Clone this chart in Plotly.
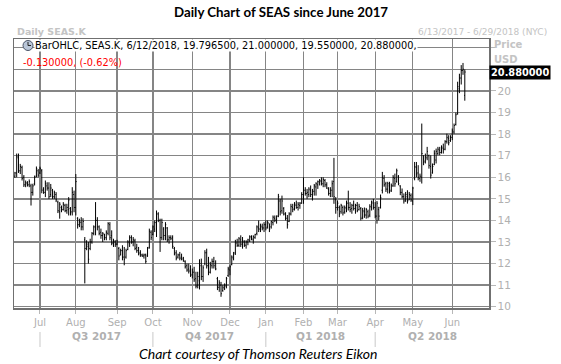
import plotly.graph_objects as go
import pandas as pd

# ---------------- data ----------------
holidays = ["2017-07-04", "2017-09-04", "2017-11-23", "2017-12-25", "2018-01-01",
            "2018-01-15", "2018-02-19", "2018-03-30", "2018-05-28"]
bday = pd.offsets.CustomBusinessDay(holidays=holidays)
dates = [d.strftime("%Y-%m-%d") for d in pd.date_range("2017-06-13", "2018-06-12", freq=bday)]
axis_slots = len(pd.date_range("2017-06-13", "2018-06-29", freq=bday))  # visible window 6/13/2017 - 6/29/2018

open_ = [16.05, 16.20, 16.90, 16.30, 16.45, 16.00, 15.65, 15.70, 15.65, 15.60,
         15.30, 15.70, 16.05, 16.30, 16.20, 16.30, 15.45, 15.30, 15.60, 15.50,
         15.20, 15.40, 15.10, 15.20, 14.85, 14.40, 14.60, 14.50, 14.70, 14.45,
         14.50, 14.55, 14.40, 15.20, 14.60, 14.10, 13.80, 13.90, 13.70, 13.10,
         12.70, 12.80, 12.70, 13.00, 13.40, 13.70, 14.00, 13.70, 13.45, 13.30,
         13.35, 13.20, 13.40, 13.80, 13.30, 12.95, 13.00, 12.90, 12.70, 12.40,
         12.60, 12.30, 12.30, 12.65, 12.95, 13.20, 13.00, 13.05, 12.75, 12.60,
         12.50, 12.40, 12.35, 12.40, 12.35, 12.75, 13.45, 13.35, 13.60, 13.90,
         14.30, 14.00, 13.20, 13.60, 13.30, 13.65, 13.10, 13.20, 13.20, 12.70,
         12.50, 12.30, 12.40, 12.30, 12.25, 12.10, 11.90, 11.75, 11.70, 11.50,
         11.60, 11.30, 11.00, 11.20, 11.90, 11.40, 12.00, 12.50, 11.90, 11.60,
         11.90, 12.10, 12.00, 11.30, 10.90, 11.00, 10.75, 10.85, 10.95, 11.45,
         11.70, 11.95, 12.25, 12.50, 12.95, 12.85, 13.10, 12.90, 13.00, 12.85,
         13.00, 13.05, 13.20, 13.10, 13.20, 13.40, 13.65, 13.60, 13.70, 13.65,
         13.80, 13.70, 13.85, 13.70, 13.90, 14.10, 14.05, 14.20, 14.90, 14.45,
         14.55, 14.30, 14.10, 13.95, 14.30, 14.60, 14.55, 14.70, 14.60, 14.70,
         14.80, 15.20, 15.40, 15.25, 15.20, 15.40, 15.20, 15.35, 15.55, 15.65,
         15.75, 15.80, 15.70, 15.85, 15.65, 15.45, 15.25, 15.40, 15.80, 14.95,
         14.60, 14.60, 14.40, 14.60, 14.40, 14.55, 14.80, 14.60, 14.55, 14.70,
         14.55, 14.70, 14.50, 14.55, 14.15, 14.40, 14.25, 14.40, 14.25, 14.60,
         14.80, 14.60, 14.20, 14.50, 14.60, 15.40, 15.95, 15.70, 15.45, 15.60,
         15.40, 15.60, 15.95, 15.80, 16.05, 15.60, 15.30, 15.10, 14.95, 15.10,
         14.95, 15.15, 14.90, 15.95, 16.45, 16.20, 15.95, 16.00, 17.00, 16.75,
         16.90, 17.00, 16.50, 16.20, 16.60, 16.80, 17.10, 17.25, 17.15, 17.35,
         17.30, 17.65, 17.80, 17.70, 17.85, 18.10, 18.45, 18.95, 20.10, 20.60,
         20.95, 19.7965]

high = [16.25, 17.10, 17.10, 16.62, 16.54, 16.10, 15.85, 15.82, 15.90, 15.70,
        15.70, 16.08, 16.50, 16.38, 16.49, 16.38, 15.54, 15.85, 15.77, 15.77,
        15.69, 15.46, 15.38, 15.31, 14.92, 14.85, 14.69, 14.85, 14.77, 14.77,
        15.08, 14.62, 15.54, 15.38, 16.15, 14.15, 14.08, 14.15, 14.10, 13.23,
        13.08, 13.00, 13.15, 13.46, 13.77, 14.85, 14.15, 13.77, 13.62, 13.46,
        13.38, 13.54, 13.92, 13.92, 13.54, 13.15, 13.08, 13.10, 12.77, 12.69,
        12.85, 12.77, 12.69, 13.08, 13.31, 13.31, 13.23, 13.15, 12.92, 12.77,
        12.62, 12.46, 12.46, 12.46, 12.77, 13.62, 13.54, 13.77, 14.00, 14.46,
        14.38, 14.08, 14.08, 13.69, 13.92, 13.69, 13.31, 13.31, 13.31, 12.77,
        12.62, 12.46, 12.54, 12.46, 12.31, 12.15, 12.00, 12.00, 11.92, 11.77,
        11.85, 11.62, 11.62, 12.20, 12.23, 11.92, 12.62, 12.69, 12.31, 12.08,
        12.23, 12.31, 12.15, 11.38, 11.23, 11.15, 11.00, 11.08, 11.38, 11.85,
        11.92, 12.38, 12.54, 13.10, 13.15, 13.23, 13.31, 13.23, 13.08, 13.08,
        13.15, 13.31, 13.31, 13.31, 13.38, 13.77, 14.00, 13.85, 13.85, 13.92,
        14.00, 14.00, 13.85, 14.00, 14.23, 14.23, 14.23, 15.23, 15.00, 15.15,
        14.62, 14.38, 14.25, 14.38, 14.77, 14.77, 14.85, 14.92, 14.85, 14.85,
        15.31, 16.00, 15.54, 15.46, 15.54, 15.62, 15.46, 15.69, 15.77, 15.85,
        15.92, 16.00, 16.00, 15.92, 15.77, 15.54, 15.54, 15.85, 16.90, 15.08,
        14.92, 14.69, 14.77, 14.69, 14.69, 14.92, 15.38, 14.85, 14.77, 14.92,
        14.77, 14.85, 14.77, 14.62, 14.58, 14.60, 14.58, 14.50, 14.75, 14.92,
        15.00, 14.85, 14.90, 14.63, 15.20, 16.25, 16.10, 15.79, 15.79, 15.79,
        15.71, 16.10, 16.17, 16.40, 16.10, 15.63, 15.48, 15.25, 15.32, 15.40,
        15.32, 15.25, 15.56, 16.71, 16.71, 16.56, 16.17, 18.49, 17.02, 17.10,
        17.41, 17.05, 17.02, 16.64, 17.25, 17.33, 17.41, 17.41, 17.48, 17.56,
        17.72, 18.02, 17.95, 17.95, 18.26, 18.49, 19.00, 20.43, 20.80, 21.20,
        21.30, 21.00]

low = [15.97, 16.00, 16.20, 16.15, 15.85, 15.55, 15.54, 15.57, 15.54, 14.69,
       15.15, 15.62, 16.00, 16.00, 16.15, 15.26, 15.23, 15.08, 15.38, 15.00,
       15.08, 15.00, 15.00, 14.85, 14.34, 14.08, 14.38, 14.46, 14.38, 14.31,
       14.23, 14.23, 14.23, 14.38, 14.23, 13.62, 13.69, 13.54, 13.54, 11.08,
       12.62, 12.00, 12.62, 12.92, 13.31, 13.31, 13.54, 13.31, 13.15, 13.00,
       13.08, 13.08, 13.31, 13.08, 12.85, 12.77, 12.77, 12.85, 12.15, 12.38,
       12.15, 11.92, 12.23, 12.62, 12.77, 12.92, 12.80, 12.62, 12.50, 12.38,
       12.31, 12.31, 12.23, 12.00, 12.31, 12.69, 13.08, 13.31, 13.46, 13.23,
       13.92, 12.54, 13.08, 13.08, 13.08, 13.00, 12.92, 13.08, 12.69, 12.38,
       12.15, 12.23, 12.15, 12.15, 12.08, 11.77, 11.62, 11.54, 11.38, 11.31,
       11.15, 10.85, 10.85, 10.80, 11.23, 11.15, 11.92, 11.77, 11.46, 11.54,
       11.77, 11.77, 11.69, 10.77, 10.69, 10.46, 10.69, 10.77, 10.85, 11.38,
       11.46, 11.92, 12.15, 12.40, 12.77, 12.77, 12.77, 12.69, 12.77, 12.69,
       12.85, 13.00, 13.08, 12.92, 13.15, 13.31, 13.46, 13.46, 13.54, 13.46,
       13.54, 13.62, 13.46, 13.62, 13.77, 13.92, 13.85, 14.15, 14.23, 14.31,
       14.23, 14.00, 13.62, 13.92, 14.23, 14.38, 14.46, 14.54, 14.46, 14.54,
       14.77, 14.77, 15.15, 15.00, 15.08, 15.08, 14.92, 15.15, 15.15, 15.46,
       15.62, 15.62, 15.54, 15.54, 15.46, 15.15, 15.08, 15.08, 14.77, 14.31,
       14.46, 14.15, 14.31, 14.23, 14.31, 14.38, 14.46, 14.38, 14.31, 14.46,
       14.31, 14.38, 14.46, 14.00, 14.05, 14.12, 14.08, 14.10, 14.15, 14.46,
       14.50, 14.10, 13.85, 14.00, 14.55, 15.25, 15.56, 15.32, 15.25, 15.25,
       15.32, 15.56, 15.56, 15.75, 15.63, 15.17, 15.02, 14.78, 14.86, 14.78,
       14.94, 14.86, 14.71, 15.86, 16.00, 15.86, 15.79, 15.71, 16.56, 16.64,
       16.79, 16.40, 15.94, 16.17, 16.56, 16.64, 17.02, 17.02, 17.10, 17.10,
       17.25, 17.56, 17.48, 17.64, 17.72, 18.02, 18.40, 18.90, 19.90, 20.30,
       20.75, 19.55]

close = [16.20, 16.95, 16.30, 16.50, 15.95, 15.65, 15.75, 15.65, 15.80, 15.30,
         15.60, 16.00, 16.40, 16.10, 16.40, 15.40, 15.30, 15.70, 15.50, 15.10,
         15.50, 15.10, 15.30, 14.95, 14.45, 14.75, 14.50, 14.75, 14.45, 14.60,
         14.95, 14.35, 15.30, 14.60, 15.80, 13.80, 13.95, 13.70, 13.95, 12.70,
         12.90, 12.20, 13.00, 13.40, 13.70, 14.00, 13.70, 13.40, 13.30, 13.40,
         13.20, 13.45, 13.85, 13.20, 12.95, 13.05, 12.90, 13.00, 12.35, 12.60,
         12.30, 12.20, 12.60, 13.00, 13.20, 13.00, 13.10, 12.70, 12.60, 12.45,
         12.40, 12.35, 12.40, 12.10, 12.70, 13.50, 13.20, 13.70, 13.90, 14.30,
         14.00, 13.20, 13.90, 13.30, 13.80, 13.10, 13.20, 13.15, 12.80, 12.45,
         12.25, 12.40, 12.25, 12.20, 12.15, 11.85, 11.70, 11.65, 11.45, 11.60,
         11.25, 10.95, 11.40, 12.00, 11.40, 11.80, 12.50, 11.90, 11.60, 11.95,
         12.10, 11.90, 11.75, 10.90, 11.10, 10.60, 10.90, 11.00, 11.30, 11.75,
         11.85, 12.30, 12.45, 13.00, 12.85, 13.15, 12.90, 13.05, 12.85, 13.00,
         13.10, 13.25, 13.15, 13.25, 13.35, 13.70, 13.60, 13.75, 13.65, 13.80,
         13.65, 13.90, 13.60, 13.95, 14.15, 14.00, 14.20, 15.10, 14.40, 14.90,
         14.30, 14.10, 13.80, 14.30, 14.65, 14.50, 14.75, 14.60, 14.75, 14.80,
         15.20, 15.40, 15.25, 15.30, 15.45, 15.20, 15.35, 15.60, 15.70, 15.80,
         15.85, 15.70, 15.90, 15.65, 15.50, 15.25, 15.40, 15.70, 15.10, 14.60,
         14.80, 14.30, 14.70, 14.35, 14.60, 14.80, 14.60, 14.50, 14.70, 14.55,
         14.70, 14.45, 14.65, 14.10, 14.45, 14.25, 14.50, 14.20, 14.65, 14.85,
         14.60, 14.20, 14.80, 14.20, 15.05, 16.00, 15.65, 15.45, 15.70, 15.35,
         15.60, 16.00, 15.70, 16.30, 15.70, 15.30, 15.10, 14.90, 15.20, 14.90,
         15.20, 14.95, 15.50, 16.50, 16.15, 16.00, 16.05, 17.10, 16.70, 16.95,
         17.20, 16.55, 16.10, 16.50, 17.10, 17.20, 17.30, 17.15, 17.40, 17.30,
         17.65, 17.85, 17.60, 17.85, 18.15, 18.40, 18.90, 20.20, 20.60, 20.95,
         21.01, 20.88]

month_tick_dates = ["2017-07-03", "2017-08-01", "2017-09-01", "2017-10-02", "2017-11-01",
                    "2017-12-01", "2018-01-02", "2018-02-01", "2018-03-01", "2018-04-02",
                    "2018-05-01", "2018-06-01"]
month_tick_labels = ["Jul", "Aug", "Sep", "Oct", "Nov", "Dec", "Jan", "Feb", "Mar", "Apr", "May", "Jun"]
quarter_start_dates = ["2017-07-03", "2017-10-02", "2018-01-02", "2018-04-02"]
quarter_labels = ["Q3 2017", "Q4 2017", "Q1 2018", "Q2 2018"]
price_ticks = list(range(10, 23))
price_labels = [str(v) if v <= 20 else "" for v in price_ticks]

# ---------------- layout geometry ----------------
W, H = 561, 364
L, R, T, B = 14, 489, 39, 308
PW, PH = R - L, B - T


def px(x):
    return (x - L) / PW


def py(y):
    return (B - y) / PH


GRID = "#858585"
LIGHT = "#c4c4c4"
AXTXT = "#b0b0b0"

fig = go.Figure()
fig.add_trace(go.Ohlc(
    x=dates, open=open_, high=high, low=low, close=close,
    increasing=dict(line=dict(color="black", width=1)),
    decreasing=dict(line=dict(color="black", width=1)),
    tickwidth=0.45, showlegend=False, hoverinfo="skip",
))

xr = [-0.5, axis_slots - 0.5]
fig.update_layout(
    width=W, height=H,
    margin=dict(l=L, r=W - R, t=T, b=H - B),
    paper_bgcolor="white", plot_bgcolor="white",
    showlegend=False,
    xaxis=dict(
        type="category", range=xr, rangeslider=dict(visible=False),
        tickmode="array", tickvals=month_tick_dates, ticktext=month_tick_labels,
        showgrid=True, gridcolor=GRID, gridwidth=1.3,
        ticks="outside", ticklen=4, tickcolor="#b8b8b8", tickwidth=1,
        tickfont=dict(family="DejaVu Sans", size=10, color=AXTXT),
        showline=True, mirror=True, linecolor="#707070", linewidth=1.5,
        zeroline=False, fixedrange=True,
    ),
    yaxis=dict(
        side="right", range=[9.94, 22.41],
        tickmode="array", tickvals=price_ticks, ticktext=price_labels,
        showgrid=True, gridcolor=GRID, gridwidth=1.3,
        ticks="outside", ticklen=5, tickcolor="#b8b8b8", tickwidth=1,
        tickfont=dict(family="DejaVu Sans", size=10.5, color=AXTXT),
        showline=True, mirror=True, linecolor="#707070", linewidth=1.5,
        zeroline=False, fixedrange=True,
    ),
)

ann = []
# title
ann.append(dict(text="<b>Daily Chart of SEAS since June 2017</b>", x=px(281), y=py(11.5),
                xref="paper", yref="paper", xanchor="center", yanchor="middle", showarrow=False,
                font=dict(family="Lato", size=13.3, color="black")))
# header
ann.append(dict(text="<b>Daily SEAS.K</b>", x=px(15), y=py(31.5), xref="paper", yref="paper",
                xanchor="left", yanchor="middle", showarrow=False,
                font=dict(family="DejaVu Sans", size=9.5, color=LIGHT)))
ann.append(dict(text="6/13/2017 - 6/29/2018 (NYC)", x=px(549), y=py(31.5), xref="paper", yref="paper",
                xanchor="right", yanchor="middle", showarrow=False,
                font=dict(family="DejaVu Sans", size=9, color=LIGHT)))
# legend lines
ann.append(dict(text="BarOHLC, SEAS.K, 6/12/2018, 19.796500, 21.000000, 19.550000, 20.880000,",
                x=px(34), y=py(45.7), xref="paper", yref="paper", xanchor="left", yanchor="middle",
                showarrow=False, bgcolor="white", borderpad=0,
                font=dict(family="DejaVu Sans", size=9.8, color="black")))
ann.append(dict(text="-0.130000, (-0.62%)", x=px(21), y=py(62), xref="paper", yref="paper",
                xanchor="left", yanchor="middle", showarrow=False,
                font=dict(family="DejaVu Sans", size=9.8, color="#ff0000")))
# right labels
ann.append(dict(text="<b>Price</b>", x=px(492), y=py(45), xref="paper", yref="paper",
                xanchor="left", yanchor="middle", showarrow=False,
                font=dict(family="DejaVu Sans", size=10, color=LIGHT)))
ann.append(dict(text="<b>USD</b>", x=px(492), y=py(59.5), xref="paper", yref="paper",
                xanchor="left", yanchor="middle", showarrow=False,
                font=dict(family="DejaVu Sans", size=10, color=LIGHT)))
ann.append(dict(text="<b>%.6f</b>" % close[-1], x=1.0, y=close[-1], xref="paper", yref="y",
                xanchor="left", yanchor="middle", showarrow=False, bgcolor="black", borderpad=1,
                font=dict(family="DejaVu Sans", size=9.8, color="white")))
# quarter labels and separators
shapes = []
q_idx = [dates.index(d) for d in quarter_start_dates] + [xr[1]]
for k, lab in enumerate(quarter_labels):
    cx = (q_idx[k] + min(q_idx[k + 1], xr[1])) / 2.0
    ann.append(dict(text="<b>%s</b>" % lab, x=cx, y=py(335.5), xref="x", yref="paper",
                    xanchor="center", yanchor="middle", showarrow=False,
                    font=dict(family="DejaVu Sans", size=10.5, color=AXTXT)))
    shapes.append(dict(type="line", xref="x", yref="paper", x0=q_idx[k], x1=q_idx[k],
                       y0=py(332), y1=py(347), line=dict(color="#c8c8c8", width=1)))
# footer
ann.append(dict(text="<i>Chart courtesy of Thomson Reuters Eikon</i>", x=px(257.5), y=py(353.5),
                xref="paper", yref="paper", xanchor="center", yanchor="middle", showarrow=False,
                font=dict(family="Lato", size=14, color="black")))

# clock icon of the legend
shapes.append(dict(type="circle", xref="paper", yref="paper", x0=px(23), x1=px(33), y0=py(50.5), y1=py(40.5),
                   fillcolor="#b9c6d8", line=dict(color="#4a5568", width=1)))
shapes.append(dict(type="line", xref="paper", yref="paper", x0=px(28), x1=px(28), y0=py(45.5), y1=py(42),
                   line=dict(color="#222222", width=1)))
shapes.append(dict(type="line", xref="paper", yref="paper", x0=px(28), x1=px(31), y0=py(45.5), y1=py(45.5),
                   line=dict(color="#222222", width=1)))

fig.update_layout(annotations=ann, shapes=shapes)
fig.write_html("out.html", config={"displayModeBar": False, "staticPlot": True},
               post_script="document.body.style.margin='0';document.body.style.padding='0';")
